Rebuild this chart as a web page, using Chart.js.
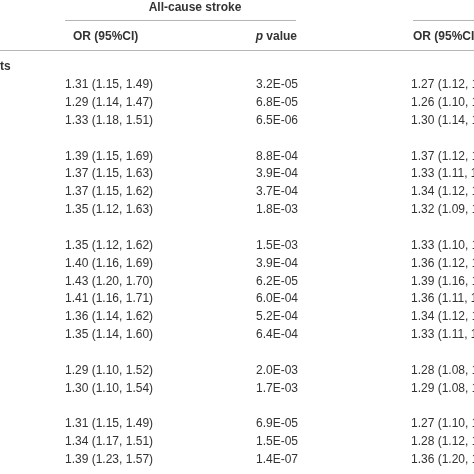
<!DOCTYPE html>
<html><head><meta charset="utf-8">
<script src="https://cdn.jsdelivr.net/npm/chart.js@4/dist/chart.umd.min.js"></script>
<style>html,body{margin:0;padding:0;background:#fff}#w{width:474px;height:474px}</style>
</head><body><div id="w"><canvas id="c"></canvas></div>
<script>
const title = "All-cause stroke";
const headers = ["OR (95%CI)", "value", "OR (95%CI)"];
const groupLabel = "ts";
// row indices (blank rows between groups are skipped)
const rowIdx = [1,2,3, 5,6,7,8, 10,11,12,13,14,15, 17,18, 20,21,22];
const orAll = ["1.31 (1.15, 1.49)","1.29 (1.14, 1.47)","1.33 (1.18, 1.51)",
 "1.39 (1.15, 1.69)","1.37 (1.15, 1.63)","1.37 (1.15, 1.62)","1.35 (1.12, 1.63)",
 "1.35 (1.12, 1.62)","1.40 (1.16, 1.69)","1.43 (1.20, 1.70)","1.41 (1.16, 1.71)","1.36 (1.14, 1.62)","1.35 (1.14, 1.60)",
 "1.29 (1.10, 1.52)","1.30 (1.10, 1.54)",
 "1.31 (1.15, 1.49)","1.34 (1.17, 1.51)","1.39 (1.23, 1.57)"];
const pAll = ["3.2E-05","6.8E-05","6.5E-06",
 "8.8E-04","3.9E-04","3.7E-04","1.8E-03",
 "1.5E-03","3.9E-04","6.2E-05","6.0E-04","5.2E-04","6.4E-04",
 "2.0E-03","1.7E-03",
 "6.9E-05","1.5E-05","1.4E-07"];
const orNext = ["1.27 (1.12, 1.44)","1.26 (1.10, 1.44)","1.30 (1.14, 1.48)",
 "1.37 (1.12, 1.67)","1.33 (1.11, 1.60)","1.34 (1.12, 1.60)","1.32 (1.09, 1.60)",
 "1.33 (1.10, 1.61)","1.36 (1.12, 1.65)","1.39 (1.16, 1.67)","1.36 (1.11, 1.66)","1.34 (1.12, 1.60)","1.33 (1.11, 1.59)",
 "1.28 (1.08, 1.52)","1.29 (1.08, 1.54)",
 "1.27 (1.10, 1.46)","1.28 (1.12, 1.47)","1.36 (1.20, 1.54)"];

const FONT = '"Liberation Sans", Arial, sans-serif';
const tablePlugin = {
  id: 'table',
  afterDraw(chart) {
    const ctx = chart.ctx, x = chart.scales.x, y = chart.scales.y;
    const X = v => x.getPixelForValue(v), Y = v => y.getPixelForValue(v);
    ctx.save();
    ctx.textBaseline = 'middle';
    ctx.fillStyle = '#333';
    ctx.font = 'bold 12px ' + FONT;
    ctx.textAlign = 'center';
    ctx.fillText(title, X(195), Y(-3.3));
    ctx.textAlign = 'left';
    ctx.fillText(headers[0], X(73), Y(-1.68));
    ctx.fillText(headers[2], X(413), Y(-1.68));
    ctx.textAlign = 'right';
    ctx.fillText(headers[1], X(297), Y(-1.68));
    const w = ctx.measureText(headers[1] + ' ').width;
    ctx.font = 'bold italic 12px ' + FONT;
    ctx.fillText('p', X(297) - w, Y(-1.68));
    ctx.font = 'bold 12px ' + FONT;
    ctx.textAlign = 'left';
    ctx.fillText(groupLabel, X(0), Y(0));
    ctx.strokeStyle = '#b5b5b5'; ctx.lineWidth = 1;
    ctx.beginPath();
    ctx.moveTo(X(65), Y(-2.63)+0.5); ctx.lineTo(X(296), Y(-2.63)+0.5);
    ctx.moveTo(X(413), Y(-2.63)+0.5); ctx.lineTo(X(474), Y(-2.63)+0.5);
    ctx.moveTo(X(0), Y(-0.95)+0.5); ctx.lineTo(X(474), Y(-0.95)+0.5);
    ctx.stroke();
    ctx.font = '12px ' + FONT;
    rowIdx.forEach((r, i) => {
      ctx.textAlign = 'left';
      ctx.fillText(orAll[i], X(65), Y(r));
      ctx.fillText(orNext[i], X(411), Y(r));
      ctx.textAlign = 'right';
      ctx.fillText(pAll[i], X(298), Y(r));
    });
    ctx.restore();
  }
};
new Chart(document.getElementById('c'), {
  type: 'scatter',
  data: { datasets: [{ data: rowIdx.map(r => ({x: -10, y: r})), pointRadius: 0 }] },
  options: {
    responsive: true, maintainAspectRatio: false, animation: false,
    layout: { padding: 0 },
    plugins: { legend: { display: false }, tooltip: { enabled: false } },
    scales: {
      x: { type: 'linear', display: false, min: 0, max: 474 },
      y: { type: 'linear', display: false, reverse: true, min: -3.75, max: 22.79 }
    }
  },
  plugins: [tablePlugin]
});
</script></body></html>
